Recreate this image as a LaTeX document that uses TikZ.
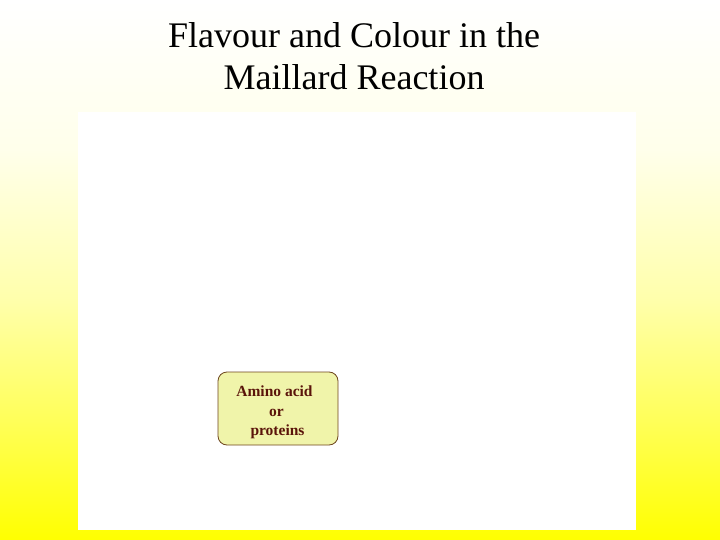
\documentclass[tikz,border=0pt]{standalone}
\usepackage{fontspec}
\setmainfont{Liberation Serif}
\definecolor{nodefill}{RGB}{240,244,170}
\definecolor{nodeborder}{RGB}{110,70,30}
\definecolor{nodetext}{RGB}{90,20,10}
\pgfdeclareverticalshading{slidebg}{100bp}{%
  rgb(0bp)=(1,1,0); rgb(25bp)=(1,1,0); rgb(36.1bp)=(1,1,0.35);
  rgb(47.2bp)=(1,1,0.67); rgb(61.1bp)=(1,1,0.92); rgb(75bp)=(1,1,1); rgb(100bp)=(1,1,1)}
\tikzset{
  titletext/.style={align=center, font=\fontsize{36}{42}\selectfont, text=black, inner sep=0pt},
  reactant/.style={draw=nodeborder, line width=0.8pt, fill=nodefill, rounded corners=9pt,
    minimum width=120pt, minimum height=73pt, inner sep=0pt},
  reactanttext/.style={align=center, text=nodetext,
    font=\bfseries\fontsize{15.5}{19.5}\selectfont, inner sep=0pt},
}
\begin{document}
\begin{tikzpicture}[x=1pt,y=-1pt]
  \useasboundingbox (0,0) rectangle (720,540);
  \shade[shading=slidebg] (0,0) rectangle (720,540);
  \fill[white] (78,112) rectangle (636,530);
  \node[titletext] (title) at (354,56) {Flavour and Colour in the\\Maillard Reaction};
  \node[reactant] (amino) at (278,408.5) {};
  \node[reactanttext] (aminotext) at (276.5,412.5)
    {Amino acid\hspace*{4pt}\\or\hspace*{4pt}\\\hspace*{2pt}proteins};
\end{tikzpicture}
\end{document}
